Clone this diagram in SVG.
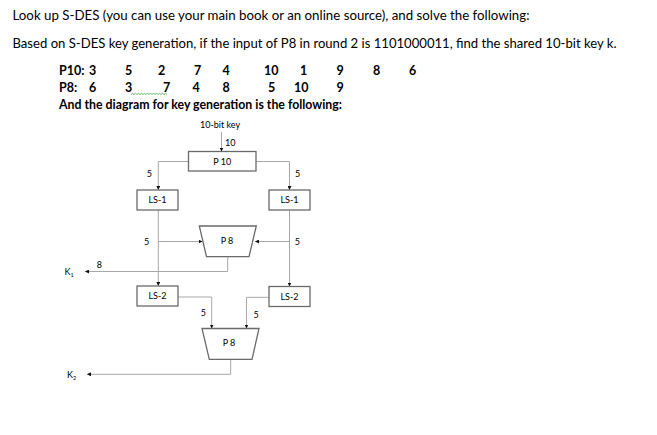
<svg xmlns="http://www.w3.org/2000/svg" width="657" height="435" viewBox="0 0 657 435">
<defs>
<style>
.t{font-family:Lato,"Open Sans","Liberation Sans",sans-serif;fill:#000}
.q{font-size:12.5px}
.b{font-size:12.5px;font-weight:bold}
.s{font-size:9px}
.box{fill:#fff;stroke:#6a6a6a;stroke-width:1.3}
.c{fill:none;stroke:#a8a8a8;stroke-width:1}
</style>
<marker id="ah" markerUnits="userSpaceOnUse" markerWidth="4" markerHeight="4" viewBox="0 0 4 4" refX="4" refY="2" orient="auto">
<path d="M0,0 L4,2 L0,4 Z" fill="#111"/>
</marker>
</defs>
<rect width="657" height="435" fill="#fff"/>
<g id="question">
<text class="t q" x="12.5" y="19.5" textLength="517" lengthAdjust="spacingAndGlyphs">Look up S-DES (you can use your main book or an online source), and solve the following:</text>
<text class="t q" x="12.5" y="47.5" textLength="604" lengthAdjust="spacingAndGlyphs">Based on S-DES key generation, if the input of P8 in round 2 is 1101000011, find the shared 10-bit key k.</text>
<g class="t b">
<text x="59" y="75">P10:</text>
<text x="89" y="75">3</text>
<text x="125" y="75">5</text>
<text x="158" y="75">2</text>
<text x="194" y="75">7</text>
<text x="222.5" y="75">4</text>
<text x="264" y="75">10</text>
<text x="300" y="75">1</text>
<text x="336.5" y="75">9</text>
<text x="373" y="75">8</text>
<text x="409" y="75">6</text>
<text x="59" y="92.3">P8:</text>
<text x="89" y="92.3">6</text>
<text x="125" y="92.3">3</text>
<text x="163" y="92.3">7</text>
<text x="192.5" y="92.3">4</text>
<text x="222.5" y="92.3">8</text>
<text x="268" y="92.3">5</text>
<text x="294" y="92.3">10</text>
<text x="336.5" y="92.3">9</text>
<text x="59" y="109" textLength="283" lengthAdjust="spacingAndGlyphs">And the diagram for key generation is the following:</text>
</g>
<path d="M131,94.5 l1.5,-1.2 l1.5,1.2 l1.5,-1.2 l1.5,1.2 l1.5,-1.2 l1.5,1.2 l1.5,-1.2 l1.5,1.2 l1.5,-1.2 l1.5,1.2 l1.5,-1.2 l1.5,1.2 l1.5,-1.2 l1.5,1.2 l1.5,-1.2 l1.5,1.2 l1.5,-1.2 l1.5,1.2 l1.5,-1.2 l1.5,1.2 l1.5,-1.2 l1.5,1.2 l1.5,-1.2 l1.5,1.2" fill="none" stroke="#3fa33f" stroke-width="0.8"/>
</g>
<g id="connectors">
<path class="c" d="M221.5,132 V151.5" marker-end="url(#ah)"/>
<path class="c" d="M188.5,161.5 H158.3 V190" marker-end="url(#ah)"/>
<path class="c" d="M256,161.5 H289.5 V190" marker-end="url(#ah)"/>
<path class="c" d="M158.3,210 V286" marker-end="url(#ah)"/>
<path class="c" d="M289.5,210 V286.5" marker-end="url(#ah)"/>
<path class="c" d="M158.3,241.5 H202.5" marker-end="url(#ah)"/>
<path class="c" d="M289.5,241.5 H255" marker-end="url(#ah)"/>
<path class="c" d="M227.7,256.7 V271.5 H85" marker-end="url(#ah)"/>
<path class="c" d="M178.3,297 H211.7 V328.5" marker-end="url(#ah)"/>
<path class="c" d="M269,297.3 H246.5 V328.5" marker-end="url(#ah)"/>
<path class="c" d="M230.7,359.3 V374.3 H87" marker-end="url(#ah)"/>
<g class="t s">
<text x="225" y="145.5">10</text>
<text x="149.3" y="176.5" text-anchor="middle">5</text>
<text x="297.7" y="176.5" text-anchor="middle">5</text>
<text x="146.7" y="244.5" text-anchor="middle">5</text>
<text x="297.3" y="244.5" text-anchor="middle">5</text>
<text x="99.3" y="268" text-anchor="middle">8</text>
<text x="203.3" y="316" text-anchor="middle">5</text>
<text x="256" y="318" text-anchor="middle">5</text>
</g>
</g>
<g id="key-input"><text class="t s" x="220" y="127.5" text-anchor="middle">10-bit key</text></g>
<g id="p10"><rect class="box" x="188.5" y="151.5" width="67.5" height="19.5"/><text class="t s" x="222.3" y="164.5" text-anchor="middle">P 10</text></g>
<g id="ls1-left"><rect class="box" x="137" y="190" width="41" height="20"/><text class="t s" x="157.5" y="203.2" text-anchor="middle">LS-1</text></g>
<g id="ls1-right"><rect class="box" x="269" y="190" width="41" height="20"/><text class="t s" x="289.5" y="203.2" text-anchor="middle">LS-1</text></g>
<g id="p8-1"><polygon class="box" points="199.3,226 256.3,226 249,256.7 206.5,256.7"/><text class="t s" x="227" y="244.2" text-anchor="middle">P 8</text></g>
<g id="k1"><text class="t s" x="69" y="275" text-anchor="middle">K<tspan font-size="5.5" dy="2">1</tspan></text></g>
<g id="ls2-left"><rect class="box" x="137" y="286" width="41" height="20"/><text class="t s" x="157.5" y="299.2" text-anchor="middle">LS-2</text></g>
<g id="ls2-right"><rect class="box" x="269" y="286.5" width="41" height="20"/><text class="t s" x="289.5" y="299.7" text-anchor="middle">LS-2</text></g>
<g id="p8-2"><polygon class="box" points="202,328.5 259,328.5 252,359.3 209.3,359.3"/><text class="t s" x="229" y="346.2" text-anchor="middle">P 8</text></g>
<g id="k2"><text class="t s" x="71.5" y="377.5" text-anchor="middle">K<tspan font-size="5.5" dy="2">2</tspan></text></g>
</svg>
